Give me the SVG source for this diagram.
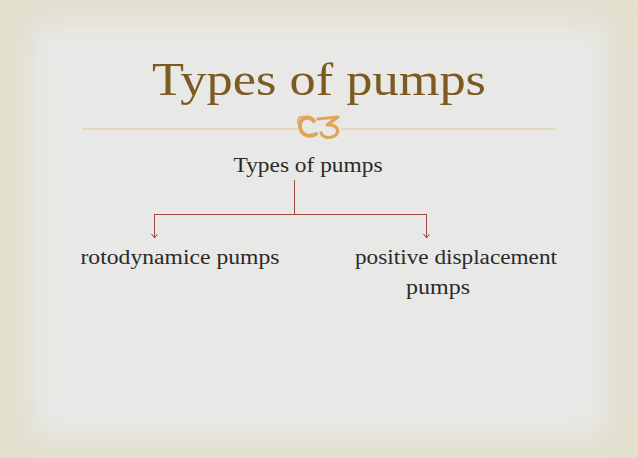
<svg xmlns="http://www.w3.org/2000/svg" width="638" height="458" viewBox="0 0 638 458">
<defs>
<filter id="blur" x="-10%" y="-10%" width="120%" height="120%"><feGaussianBlur stdDeviation="14"/></filter>
<marker id="arr" markerWidth="10" markerHeight="10" refX="8" refY="5" orient="auto" markerUnits="userSpaceOnUse" viewBox="0 0 10 10">
<path d="M4,2 L8,5 L4,8" fill="none" stroke="#9a4a40" stroke-width="1"/>
</marker>
</defs>
<style>
.title{font-family:"Palatino Linotype","Liberation Serif",serif;font-size:47px;fill:#7d5a22}
.lbl{font-family:"Palatino Linotype","Liberation Serif",serif;font-size:20px;fill:#2a2a2a}
.conn{stroke:#9a4a40;stroke-width:1;fill:none}
.orn{fill:none;stroke:#dfa45a;stroke-linecap:round;stroke-linejoin:round}
</style>
<rect x="0" y="0" width="638" height="458" fill="#e2dfcd"/>
<rect x="30" y="22" width="578" height="414" fill="#e8e8e7" filter="url(#blur)"/>
<g id="title">
<text class="title" x="319" y="95" text-anchor="middle" textLength="334" lengthAdjust="spacingAndGlyphs">Types of pumps</text>
<line x1="82" y1="129" x2="297" y2="129" stroke="#e2c48e" stroke-width="1.2"/>
<line x1="341" y1="129" x2="555" y2="129" stroke="#e2c48e" stroke-width="1.2"/>
<g id="ornament">
<path class="orn" stroke-width="4" d="M314,121 C307,114 299,119 300,127 C301,135 309,138 316,134"/>
<path class="orn" stroke-width="1.5" d="M300,127 C296,121 298,116 303,117"/>
<path class="orn" stroke-width="3.2" d="M318,119 L338,117 L327,125 C336,124 340,130 336,135 C331,139 323,138 321,133"/>
</g>
</g>
<g id="connectors">
<line class="conn" x1="294.5" y1="180" x2="294.5" y2="214.5"/>
<line class="conn" x1="154" y1="214.5" x2="427" y2="214.5"/>
<line class="conn" x1="154.5" y1="214.5" x2="154.5" y2="238" marker-end="url(#arr)"/>
<line class="conn" x1="426.5" y1="214.5" x2="426.5" y2="238" marker-end="url(#arr)"/>
</g>
<g id="root"><text class="lbl" x="308" y="172" text-anchor="middle" textLength="149" lengthAdjust="spacingAndGlyphs">Types of pumps</text></g>
<g id="rotodynamic"><text class="lbl" x="180" y="264" text-anchor="middle" textLength="199" lengthAdjust="spacingAndGlyphs">rotodynamice pumps</text></g>
<g id="positive">
<text class="lbl" x="456" y="264" text-anchor="middle" textLength="202" lengthAdjust="spacingAndGlyphs">positive displacement</text>
<text class="lbl" x="438" y="294" text-anchor="middle" textLength="64" lengthAdjust="spacingAndGlyphs">pumps</text>
</g>
</svg>
